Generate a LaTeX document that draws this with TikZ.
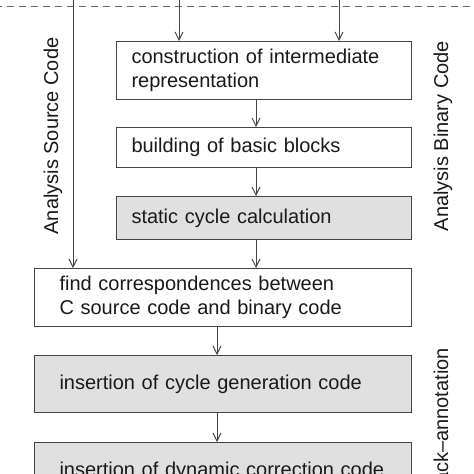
\documentclass[tikz,border=0pt]{standalone}
\usepackage{fontspec}
\setmainfont{Liberation Sans}
\usetikzlibrary{arrows.meta}
\definecolor{ln}{HTML}{444444}
\definecolor{fillg}{HTML}{E0E0E0}
\definecolor{txt}{HTML}{1A1A1A}
\tikzset{
  box/.style={draw=ln, line width=1pt, rectangle, anchor=north west, align=left, inner ysep=0pt, text=txt, font=\fontsize{20}{24}\selectfont},
  shaded/.style={box, fill=fillg},
  arr/.style={draw=ln, line width=1pt, -{Straight Barb[length=8pt,width=8pt,line width=1pt]}},
  lbl/.style={rotate=90, text=txt, font=\fontsize{20}{24}\selectfont, inner sep=0pt}
}
\begin{document}
\begin{tikzpicture}[x=1pt,y=-1pt]
\clip (0,0) rectangle (474,474);
\fill[white] (0,0) rectangle (474,474);
% dashed separator
\coordinate (dl) at (0,6);
\coordinate (dr) at (474,6);
\draw[ln!80, line width=0.8pt, dash pattern=on 7pt off 5pt, dash phase=-7pt] (dl) -- (dr);
% boxes
\node[box, minimum width=295pt, minimum height=58pt, text width=265pt, inner xsep=15pt] (b1) at (116,41) {construction of intermediate\\representation};
\node[box, minimum width=295pt, minimum height=40pt, text width=265pt, inner xsep=15pt] (b2) at (116,127) {building of basic blocks};
\node[shaded, minimum width=295pt, minimum height=43pt, text width=265pt, inner xsep=15pt] (b3) at (116,196) {static cycle calculation};
\node[box, minimum width=377pt, minimum height=58pt, text width=327pt, inner xsep=25pt] (b4) at (34,268) {find correspondences between\\C source code and binary code};
\node[shaded, minimum width=377pt, minimum height=57pt, text width=327pt, inner xsep=25pt] (b5) at (34,355) {insertion of cycle generation code};
\node[shaded, minimum width=377pt, minimum height=58pt, text width=327pt, inner xsep=25pt] (b6) at (34,442) {\makebox[327pt][l]{insertion of dynamic correction code}};
% connector coordinates
\coordinate (t1) at (179,0);
\coordinate (t2) at (339,0);
\coordinate (ts) at (73,0);
\coordinate (xa) at (256,0);
\coordinate (xb) at (217,0);
\draw[arr] (t1) -- (t1 |- b1.north);
\draw[arr] (t2) -- (t2 |- b1.north);
\draw[arr] (ts) -- (ts |- b4.north);
\draw[arr] (xa |- b1.south) -- (xa |- b2.north);
\draw[arr] (xa |- b2.south) -- (xa |- b3.north);
\draw[arr] (xa |- b3.south) -- (xa |- b4.north);
\draw[arr] (xb |- b4.south) -- (xb |- b5.north);
\draw[arr] (xb |- b5.south) -- (xb |- b6.north);
% side labels
\node[lbl, anchor=base] (ls) at (58,136) {Analysis Source Code};
\node[lbl, anchor=base] (lb) at (448,136) {Analysis Binary Code};
\node[lbl, anchor=base east] (la) at (448,348) {Back--annotation};
\end{tikzpicture}
\end{document}
